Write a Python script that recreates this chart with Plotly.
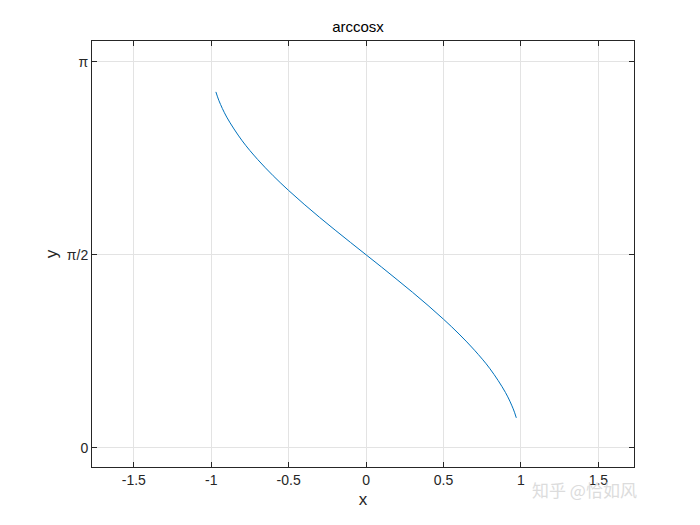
import plotly.graph_objects as go
import math

x_vals = [-0.97, -0.95, -0.9, -0.8, -0.7, -0.6, -0.5, -0.4, -0.3, -0.2, -0.1, 0.0,
          0.1, 0.2, 0.3, 0.4, 0.5, 0.6, 0.7, 0.8, 0.9, 0.95, 0.97]
y_vals = [2.896, 2.824, 2.691, 2.498, 2.346, 2.214, 2.094, 1.982, 1.875, 1.772, 1.671, 1.571,
          1.471, 1.369, 1.266, 1.159, 1.047, 0.927, 0.795, 0.644, 0.451, 0.318, 0.245]
x_ticks = [-1.5, -1, -0.5, 0, 0.5, 1, 1.5]
x_tick_text = ["-1.5", "-1", "-0.5", "0", "0.5", "1", "1.5"]
y_ticks = [0, math.pi / 2, math.pi]
y_tick_text = ["0", "π/2", "π"]

fig = go.Figure(go.Scatter(x=x_vals, y=y_vals, mode="lines",
                           line=dict(color="#0072BD", width=1, shape="spline")))
ax = dict(showline=True, linecolor="#262626", linewidth=1, mirror="ticks",
          ticks="inside", ticklen=5, tickcolor="#262626", showgrid=True,
          gridcolor="#e3e3e3", zeroline=False)
fig.update_layout(
    width=700, height=525, plot_bgcolor="white", paper_bgcolor="white",
    margin=dict(l=84, r=74, t=33, b=66), showlegend=False,
    font=dict(family="Arial, Liberation Sans", size=14, color="#262626"),
    title=dict(text="arccosx", x=0.5, xanchor="center", y=0.965, yanchor="middle",
               font=dict(size=15, color="black")),
    xaxis=dict(range=[-1.77, 1.73], tickvals=x_ticks, ticktext=x_tick_text,
               title=dict(text="x", standoff=6), **ax),
    yaxis=dict(range=[-0.155, 3.31], tickvals=y_ticks, ticktext=y_tick_text,
               title=dict(text="y", standoff=4), **ax),
    annotations=[dict(text="知乎 @恰如风", x=1.0, y=0.0, xref="paper", yref="paper",
                      xanchor="right", yanchor="top", yshift=-8, xshift=5, showarrow=False,
                      font=dict(family="Noto Sans CJK SC", size=17, color="#dcdcdc"))],
)
fig.write_html("out.html")
